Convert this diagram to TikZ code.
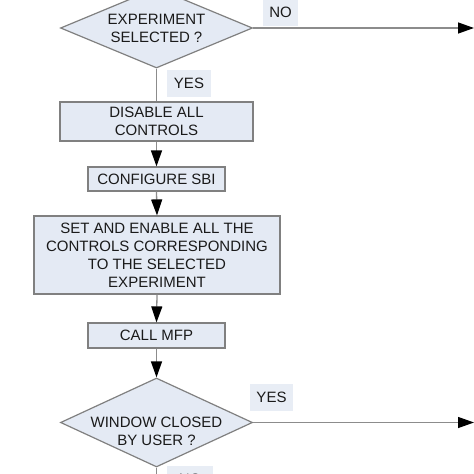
\documentclass[tikz,border=0pt]{standalone}
\usepackage{fontspec}
\setmainfont{Liberation Sans}
\usetikzlibrary{shapes.geometric,arrows.meta}
\definecolor{boxfill}{HTML}{E4EAF4}
\definecolor{boxline}{HTML}{808080}
\definecolor{linecol}{HTML}{8C8C8C}
\definecolor{lblfill}{HTML}{E8EDF5}
\definecolor{txt}{HTML}{1A1A1A}
\begin{document}
\begin{tikzpicture}[x=1pt,y=-1pt,
  font=\fontsize{15}{18}\selectfont,
  procbox/.style={draw=boxline, line width=1.2pt, fill=boxfill, inner sep=0pt, align=center, text=txt},
  decision/.style={diamond, draw=boxline, line width=1.2pt, fill=boxfill, inner sep=0pt, minimum width=192pt},
  dtext/.style={align=center, text=txt, inner sep=0pt},
  lbl/.style={fill=lblfill, inner sep=0pt, minimum width=44pt, minimum height=27pt, text=txt},
  plain/.style={draw=linecol, line width=1.3pt},
  flow/.style={draw=linecol, line width=1.3pt, -{Triangle[length=16pt,width=11pt,color=black]}}
]
\useasboundingbox (0,0) rectangle (474,474);
\clip (0,0) rectangle (474,474);
\fill[white] (0,0) rectangle (474,474);

% decision 1
\node[decision, minimum height=80pt] (d1) at (156.5,28) {};
\node[dtext] (t1) at (156.5,28.5) {EXPERIMENT\\SELECTED ?};

% process boxes
\node[procbox, minimum width=193pt, minimum height=39pt] (dis) at (156.5,121.5) {DISABLE ALL\\CONTROLS};
\node[procbox, minimum width=137pt, minimum height=24pt] (conf) at (156.5,179) {CONFIGURE SBI};
\node[procbox, minimum width=246pt, minimum height=78pt] (set) at (157,255) {SET AND ENABLE ALL THE\\CONTROLS CORRESPONDING\\TO THE SELECTED\\EXPERIMENT};
\node[procbox, minimum width=137pt, minimum height=25pt] (call) at (156.5,335.5) {CALL MFP};

% decision 2
\node[decision, minimum height=89pt] (d2) at (156.5,422.5) {};
\node[dtext] (t2) at (156.5,431) {WINDOW CLOSED\\BY USER ?};

% labels
\node[lbl, minimum width=35pt, minimum height=28pt] (no1) at (280.5,12) {NO};
\node[lbl] (yes1) at (189,83) {YES};
\node[lbl, minimum width=43pt] (yes2) at (271.5,397) {YES};
\node[lbl, minimum width=46pt] (no2) at (190,479) {NO};

% free ends
\coordinate (e1) at (474,28);
\coordinate (e2) at (474,422.5);
\coordinate (e3) at (156.5,480);

% connectors
\draw[flow] (d1.east) -- (e1);
\draw[plain] (d1.south) -- (dis.north);
\draw[flow] (dis.south) -- (conf.north);
\draw[flow] (conf.south) -- (set.north);
\draw[flow] (set.south) -- (call.north);
\draw[flow] (call.south) -- (d2.north);
\draw[flow] (d2.east) -- (e2);
\draw[plain] (d2.south) -- (e3);
\end{tikzpicture}
\end{document}
